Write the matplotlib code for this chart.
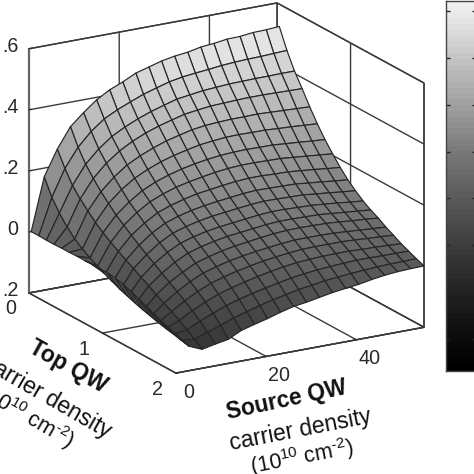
import numpy as np
import matplotlib
matplotlib.use("Agg")
import matplotlib.pyplot as plt
from matplotlib.colors import LinearSegmentedColormap
from mpl_toolkits.mplot3d import proj3d

plt.rcParams['font.family'] = ['Liberation Sans', 'DejaVu Sans']
plt.rcParams['mathtext.fontset'] = 'custom'
plt.rcParams['mathtext.rm'] = 'Liberation Sans'
plt.rcParams['mathtext.default'] = 'regular'

source_density = [0, 2.9, 5.8, 8.7, 11.6, 14.5, 17.4, 20.3, 23.2, 26.1, 28.9, 31.8, 34.7, 37.6, 40.5, 43.4, 46.3, 49.2, 52.1, 55]
top_density = [0.03, 0.134, 0.237, 0.341, 0.445, 0.548, 0.652, 0.756, 0.86, 0.963, 1.067, 1.171, 1.274, 1.378, 1.482, 1.585, 1.689, 1.793, 1.896, 2.0]
surface_values = [
    [.005, .177, .260, .325, .363, .397, .422, .440, .461, .473, .485, .493, .498, .507, .511, .517, .518, .523, .524, .527],
    [.005, .123, .210, .271, .315, .348, .370, .388, .405, .418, .430, .438, .443, .447, .452, .455, .457, .458, .460, .462],
    [.004, .085, .168, .229, .271, .304, .327, .346, .362, .375, .387, .393, .399, .402, .405, .406, .407, .407, .408, .408],
    [.004, .053, .137, .196, .238, .270, .294, .313, .328, .340, .351, .357, .362, .364, .366, .367, .367, .366, .365, .364],
    [.005, .027, .111, .166, .206, .238, .260, .278, .293, .304, .314, .320, .323, .325, .325, .326, .324, .322, .320, .318],
    [.005, .008, .087, .141, .179, .208, .229, .246, .259, .269, .278, .283, .287, .288, .287, .287, .284, .282, .279, .276],
    [.006, -.008, .067, .117, .152, .181, .201, .216, .228, .237, .244, .249, .252, .253, .252, .252, .248, .245, .241, .238],
    [.006, -.021, .049, .097, .131, .158, .176, .190, .200, .208, .215, .220, .223, .223, .222, .221, .217, .213, .209, .205],
    [.006, -.032, .033, .078, .110, .136, .152, .164, .174, .180, .186, .191, .194, .194, .192, .191, .187, .183, .178, .174],
    [.006, -.045, .018, .059, .091, .115, .130, .141, .149, .155, .160, .165, .168, .167, .166, .165, .160, .156, .151, .147],
    [.006, -.057, .004, .042, .073, .096, .110, .120, .128, .133, .138, .143, .146, .145, .144, .143, .138, .134, .129, .125],
    [.003, -.066, -.011, .026, .055, .077, .090, .100, .107, .112, .117, .122, .125, .125, .123, .122, .118, .114, .109, .105],
    [-.003, -.075, -.026, .008, .036, .058, .071, .081, .089, .094, .099, .104, .107, .107, .106, .105, .101, .097, .093, .089],
    [-.012, -.083, -.041, -.008, .017, .039, .052, .063, .071, .077, .083, .088, .091, .092, .091, .090, .087, .083, .080, .076],
    [-.022, -.090, -.055, -.025, .000, .020, .033, .044, .052, .059, .064, .069, .073, .073, .073, .072, .069, .066, .063, .060],
    [-.033, -.097, -.069, -.042, -.019, .000, .013, .024, .033, .041, .047, .052, .056, .057, .057, .057, .055, .052, .050, .047],
    [-.044, -.103, -.084, -.060, -.040, -.022, -.009, .002, .012, .021, .028, .034, .037, .039, .040, .040, .038, .037, .035, .033],
    [-.055, -.108, -.101, -.081, -.063, -.046, -.033, -.022, -.012, -.003, .005, .011, .016, .019, .022, .024, .024, .023, .023, .022],
    [-.065, -.114, -.119, -.103, -.089, -.073, -.060, -.048, -.037, -.028, -.019, -.013, -.006, -.002, .002, .005, .008, .009, .010, .011],
    [-.073, -.120, -.138, -.129, -.121, -.100, -.088, -.077, -.064, -.053, -.047, -.039, -.031, -.025, -.020, -.012, -.006, -.002, .000, .001],
]
source_ticks = [0, 20, 40]
top_ticks = [0, 1, 2]
z_ticks = [-0.2, 0, 0.2, 0.4, 0.6]
z_ticklabels = ['.2', '0', '.2', '.4', '.6']
colorbar_ticks = [-0.1, 0, 0.1, 0.2, 0.3, 0.4, 0.5, 0.6]
colorbar_range = [-0.168, 0.621]
colorbar_stops = [(-0.168, 0), (-0.1, 12), (0, 35), (0.1, 62), (0.2, 90), (0.3, 120), (0.4, 160), (0.5, 195), (0.6, 235), (0.621, 240)]

W = 474
fig = plt.figure(figsize=(4.74, 4.74), dpi=100, facecolor='white')
ax = fig.add_axes([0, 0, 1, 1], projection='3d', computed_zorder=False)
ax.set_proj_type('ortho')
ax.view_init(elev=18.5, azim=-120.2)
ax.set_box_aspect((287, 292, 257.5))
ax.set_xlim(0, 55, view_margin=0)
ax.set_ylim(2, 0, view_margin=0)
ax.set_zlim(-0.2, 0.6, view_margin=0)

X, Y = np.meshgrid(source_density, top_density)
Z = np.array(surface_values)
ax.plot_surface(X, Y, Z, rstride=1, cstride=1, cmap='gray', vmin=-0.32, vmax=0.588,
                edgecolor='#262626', linewidth=0.85, shade=False, antialiased=True)

ax.set_xticks(source_ticks)
ax.set_yticks(top_ticks)
ax.set_zticks(z_ticks)
ax.set_xticklabels([''] * len(source_ticks))
ax.set_yticklabels([''] * len(top_ticks))
ax.set_zticklabels([''] * len(z_ticks))
for axis in (ax.xaxis, ax.yaxis, ax.zaxis):
    axis.set_pane_color((1, 1, 1, 1))
    axis.pane.set_edgecolor('#3a3a3a')
    axis.pane.set_linewidth(1.0)
    axis.line.set_color('#3a3a3a')
    axis.line.set_linewidth(1.0)
    axis._axinfo['grid'].update(color='#3a3a3a', linewidth=1.0)
    axis._axinfo['tick'].update(inward_factor=0.0, outward_factor=0.12)
ax.zaxis.line.set_color('#666666')
ax.zaxis.line.set_linewidth(1.6)
ax.tick_params(axis='both', color='#2a2a2a')
ax.tick_params(axis='z', color='#2a2a2a')

# place the box: left floor corner (29,293) and right floor corner (424,327) in pixels
fig.canvas.draw()
M = ax.get_proj()
def disp(x, y, z):
    px, py, _ = proj3d.proj_transform(x, y, z, M)
    return ax.transData.transform((px, py))
a = disp(0, 0, -0.2)
b = disp(55, 2, -0.2)
scale = (424 - 29) / (b[0] - a[0])
ax_left = (29 - a[0] * scale) / W
ax_bottom = ((474 - 293) - a[1] * scale) / W
ax.set_position([ax_left, ax_bottom, scale, scale])
fig.canvas.draw()
M = ax.get_proj()

tick_style = dict(fontsize=14.2, color='#2a2a2a', va='center')
def tick_text(x, y, z, text, dx, dy, ha):
    p = disp(x, y, z)
    fig.text((p[0] + dx) / W, (p[1] - dy) / W, text, ha=ha, **tick_style)

for v in source_ticks:
    tick_text(v, 2, -0.2, str(v), 13, 19, 'center')
for v in top_ticks:
    tick_text(0, v, -0.2, str(v), -18, 16, 'center')
for v, s in zip(z_ticks, z_ticklabels):
    tick_text(0, 0, v, s, -10.5, -2, 'right')

# colour bar cut by the right edge
cb_ax = fig.add_axes([446 / W, (474 - 371) / W, 29.5 / W, 370 / W])
levels = np.linspace(colorbar_range[0], colorbar_range[1], 64).reshape(-1, 1)
span = colorbar_range[1] - colorbar_range[0]
cb_cmap = LinearSegmentedColormap.from_list(
    'bar', [((z - colorbar_range[0]) / span, (g / 255,) * 3) for z, g in colorbar_stops], N=64)
cb_ax.imshow(levels, origin='lower', aspect='auto', cmap=cb_cmap,
             extent=[0, 1, colorbar_range[0], colorbar_range[1]], interpolation='nearest')
cb_ax.set_xticks([])
cb_ax.set_yticks(colorbar_ticks)
cb_ax.set_yticklabels([])
cb_ax.tick_params(axis='y', direction='in', length=3.2, width=1.0, left=True, right=True, color='#222222')
for t, val in zip(cb_ax.yaxis.get_major_ticks(), colorbar_ticks):
    if val <= 0.1:
        t.tick1line.set_color('#777777')
        t.tick2line.set_color('#777777')
for s in cb_ax.spines.values():
    s.set_color('#444444')
    s.set_linewidth(1.0)

def label(px, py, text, rot, **kw):
    fig.text(px / W, 1 - py / W, text, rotation=rot, rotation_mode='anchor',
             ha='center', va='center', color='#111111', **kw)

density_unit = '(10$^{10}$ cm$^{\u20102}$)'
label(68, 367, 'Top QW', -29, fontsize=16.4, fontweight='bold')
label(47, 397, 'carrier density', -30, fontsize=16.5)
label(27, 416, density_unit, -30, fontsize=15.5)
label(287, 400, 'Source QW', 12, fontsize=16.4, fontweight='bold')
label(300, 430, 'carrier density', 11, fontsize=16.5)
label(302, 457, density_unit, 11, fontsize=15.5)

fig.savefig('out.png', dpi=100, facecolor='white')
